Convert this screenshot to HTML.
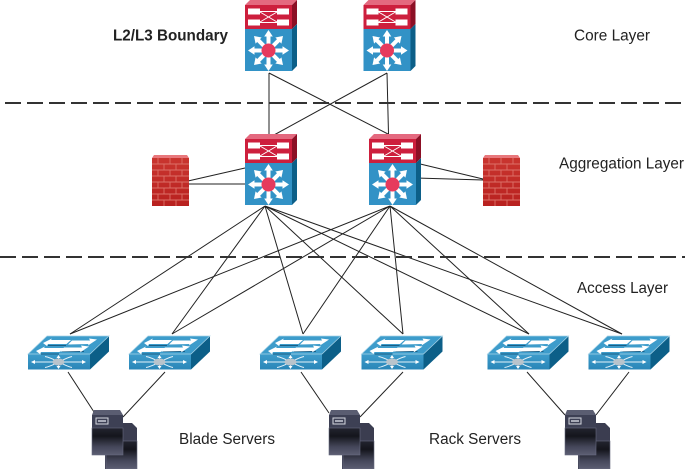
<!DOCTYPE html>
<html><head><meta charset="utf-8">
<style>html,body{margin:0;padding:0;background:#fff}svg{display:block}text{font-family:"Liberation Sans",sans-serif;font-size:15.5px;fill:#222}</style>
</head><body>
<svg width="685" height="469" viewBox="0 0 685 469" xmlns="http://www.w3.org/2000/svg">
<defs>
<linearGradient id="sf" x1="0" y1="0" x2="0" y2="1"><stop offset="0" stop-color="#3d9ccb"/><stop offset="1" stop-color="#2a86b8"/></linearGradient>
<linearGradient id="sv" x1="0" y1="0" x2="0" y2="1"><stop offset="0" stop-color="#23242f"/><stop offset=".3" stop-color="#14151c"/><stop offset=".7" stop-color="#45475a"/><stop offset="1" stop-color="#5c5e73"/></linearGradient>
<linearGradient id="br" x1="0" y1="0" x2="0" y2="1"><stop offset="0" stop-color="#c9352f"/><stop offset="1" stop-color="#b8211f"/></linearGradient>
<g id="arrow"><path d="M4 -2 L14 -2 L14 -4.300 L20.500 0 L14 4.300 L14 2 L4 2 Z" fill="#fff"/></g>
<g id="l3">
<path d="M0 0 L5 -5 L52 -5 L47 0 Z" fill="#e4697f"/>
<path d="M47 0 L52 -5 L52 19 L47 24 Z" fill="#8c0f25"/>
<path d="M47 24 L52 19 L52 61 L47 66 Z" fill="#0c5f88"/>
<rect x="0" y="0" width="47" height="24" fill="#cd1f3d"/>
<rect x="0" y="24" width="47" height="42" fill="#3292c6"/>
<rect x="3" y="3.500" width="12" height="6" fill="#fff"/><rect x="32" y="3.500" width="12" height="6" fill="#fff"/>
<rect x="3" y="14.500" width="12" height="6" fill="#fff"/><rect x="32" y="14.500" width="12" height="6" fill="#fff"/>
<path d="M14 6.500H33M14 17.500H33M15 7L32 17M15 17L32 7" stroke="#fff" stroke-width="1" fill="none"/>
<g transform="translate(23.500 45.500)">
<use href="#arrow"/><use href="#arrow" transform="rotate(45)"/><use href="#arrow" transform="rotate(90)"/><use href="#arrow" transform="rotate(135)"/><use href="#arrow" transform="rotate(180)"/><use href="#arrow" transform="rotate(225)"/><use href="#arrow" transform="rotate(270)"/><use href="#arrow" transform="rotate(315)"/>
<circle r="7" fill="#e63a5c"/>
</g>
</g>
<g id="fw">
<path d="M0 3 L2 0 L35 0 L37 3 Z" fill="#e8787c"/>
<rect x="0" y="3" width="37" height="48" fill="url(#br)"/>
<path d="M0 9H37M0 15H37M0 21H37M0 27H37M0 33H37M0 39H37M0 45H37" stroke="#dc7068" stroke-width=".9"/>
<path d="M6 3V9M18 3V9M30 3V9M12 9V15M24 9V15M6 15V21M18 15V21M30 15V21M12 21V27M24 21V27M6 27V33M18 27V33M30 27V33M12 33V39M24 33V39M6 39V45M18 39V45M30 39V45M12 45V51M24 45V51" stroke="#dc7068" stroke-width=".9"/>
</g>
<g id="sw">
<path d="M0 18 L19 0 L81 0 L62 18 Z" fill="#3d9ccb"/>
<path d="M62 18 L81 0 L81 15.500 L62 33.500 Z" fill="#0c5f88"/>
<rect x="0" y="18" width="62" height="15.500" fill="url(#sf)"/>
<path d="M0 18 L19 0 L81 0 L62 18 Z" fill="none" stroke="#a7d3e8" stroke-width=".7"/>
<path d="M20 9.500 H38 M34 15.500 H56 M13 18 H31" stroke="#1b5f86" stroke-width="1" fill="none"/>
<path d="M15 7 L24 2.500 L23 4 L43 4 L38.500 8 L20 8 L19 10 Z" fill="#fff"/>
<path d="M69 3.500 L60 9.500 L60.500 8 L40 8.500 L44 4.500 L62 4.500 L61 2.500 Z" fill="#fff"/>
<path d="M8 15 L17 10.500 L16 12 L36 12 L31.500 16 L13 16 L12 18 Z" fill="#fff"/>
<path d="M61 10.500 L52 16.500 L52.500 15 L32 15.500 L36 11.500 L54 11.500 L53 9.500 Z" fill="#fff"/>
<path d="M5 26 H56 M30.500 20 V32 M17 20.500 C26 22 36 30 44 31.500 M17 31.500 C26 30 36 22 44 20.500" stroke="#e4f2f9" stroke-width=".9" fill="none"/>
<path d="M3 26 L7 24 V28 Z M58 26 L54 24 V28 Z M30.500 19 L28.500 22 H32.500 Z M30.500 33 L28.500 30 H32.500 Z" fill="#fff"/>
<ellipse cx="30.500" cy="26" rx="6" ry="3.500" fill="#b9c4cc"/>
</g>
<g id="srv">
<path d="M13 19 V13 H40 L45 18 V59 H13 Z" fill="#3b3d50"/>
<rect x="14" y="31" width="31" height="28" fill="url(#sv)" stroke="#66697f" stroke-width=".6"/>
<path d="M2 0 L28 0 L31 5 L0 5 Z" fill="#5a5d71"/>
<rect x="0" y="5" width="31" height="13" fill="#3d4054"/>
<rect x="0" y="18" width="31" height="27" fill="url(#sv)" stroke="#66697f" stroke-width=".6"/>
<rect x="4" y="8" width="12" height="6" fill="none" stroke="#d5d7df" stroke-width="1"/>
<rect x="6" y="10" width="8" height="2" fill="#a8abb8"/>
</g>
</defs>

<g stroke="#222" stroke-width="1" fill="none">
<path d="M269 73V135M269 73L388 134M387 73L274 135M387 73L388.500 134"/>
<path d="M188 181L245 168M188 184H245M416 163L483 179M416 178L483 180"/>
<path d="M265 206L70 334M265 206L172 334M265 206L303 334M265 206L403 334M265 206L529 334M265 206L622 334"/>
<path d="M390 206L70 334M390 206L172 334M390 206L303 334M390 206L403 334M390 206L529 334M390 206L622 334"/>
<path d="M68 372L94 412M165 372L123 417M301 372L329 413M403 372L360 417M527 372L565 415M629 372L596 415"/>
</g>
<g stroke="#333" stroke-width="2" stroke-dasharray="16 6" fill="none">
<path d="M5 103H685"/><path d="M0 257H685"/>
</g>

<use href="#l3" x="245" y="5"/>
<use href="#l3" x="363.500" y="5"/>
<use href="#l3" x="245" y="139"/>
<use href="#l3" x="369" y="139"/>
<use href="#fw" x="152" y="155"/>
<use href="#fw" x="483" y="155"/>
<use href="#sw" x="28" y="336"/>
<use href="#sw" x="129" y="336"/>
<use href="#sw" x="260" y="336"/>
<use href="#sw" x="361.500" y="336"/>
<use href="#sw" x="487.500" y="336"/>
<use href="#sw" x="588.500" y="336"/>
<use href="#srv" x="92" y="410"/>
<use href="#srv" x="329" y="410"/>
<use href="#srv" x="565" y="410"/>

<text x="113" y="40.500" style="font-weight:bold" textLength="115" lengthAdjust="spacingAndGlyphs">L2/L3 Boundary</text>
<text x="574" y="40.500" textLength="76" lengthAdjust="spacingAndGlyphs">Core Layer</text>
<text x="559" y="168.500" textLength="125" lengthAdjust="spacingAndGlyphs">Aggregation Layer</text>
<text x="577" y="293" textLength="91" lengthAdjust="spacingAndGlyphs">Access Layer</text>
<text x="179" y="444" textLength="96" lengthAdjust="spacingAndGlyphs">Blade Servers</text>
<text x="429" y="444" textLength="92" lengthAdjust="spacingAndGlyphs">Rack Servers</text>
</svg>
</body></html>
